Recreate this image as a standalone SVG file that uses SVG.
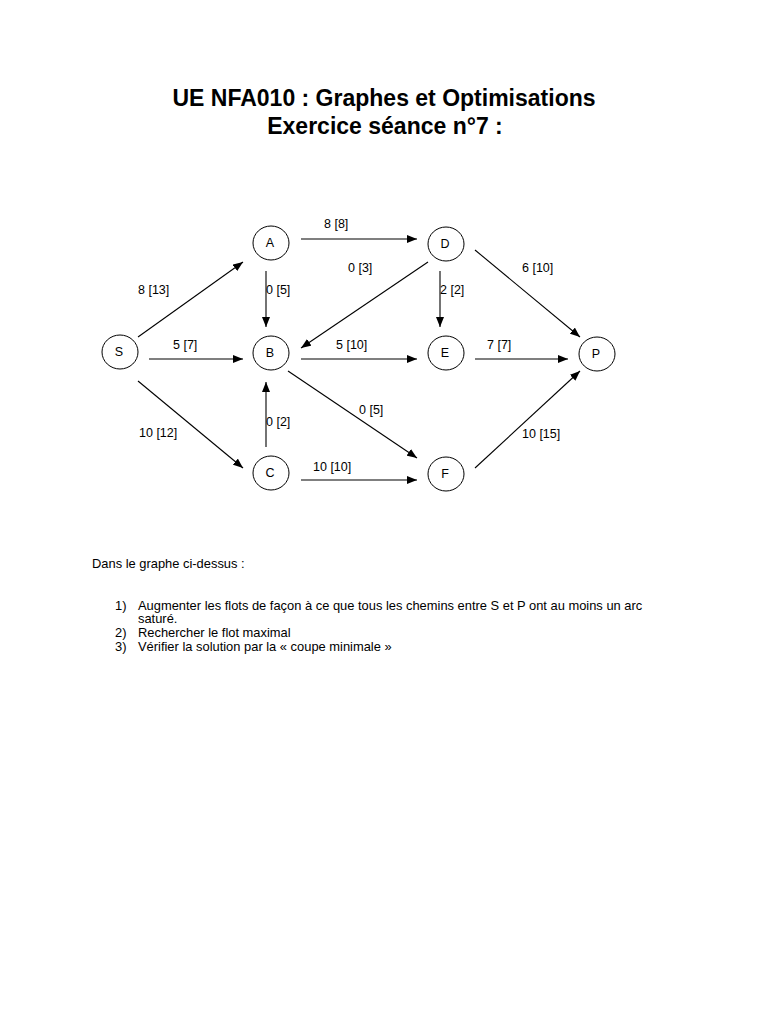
<svg xmlns="http://www.w3.org/2000/svg" width="768" height="1024" viewBox="0 0 768 1024">
<style>
.title{font-family:"Liberation Sans",Arial,sans-serif;font-size:23px;font-weight:bold;fill:#000;text-anchor:middle}
.body{font-family:"Liberation Sans",Arial,sans-serif;font-size:12.9px;fill:#000}
.lbl{font-family:"Liberation Sans",Arial,sans-serif;font-size:12.5px;fill:#000}
.nl{font-family:"Liberation Sans",Arial,sans-serif;font-size:12.5px;fill:#000;text-anchor:middle;dominant-baseline:central}
.node ellipse{fill:#fff;stroke:#000;stroke-width:1}
.edges line{stroke:#000;stroke-width:1.1;marker-end:url(#arr)}
</style>
<defs>
<marker id="arr" markerUnits="userSpaceOnUse" markerWidth="11" markerHeight="8" refX="10" refY="4" orient="auto">
<path d="M0,0 L10,4 L0,8 Z" fill="#000"/>
</marker>
</defs>
<rect width="768" height="1024" fill="#fff"/>
<text class="title" x="384" y="106">UE NFA010 : Graphes et Optimisations</text>
<text class="title" x="385" y="134">Exercice séance n°7 :</text>

<g class="edges">
<line x1="138" y1="337" x2="243" y2="262"/>
<line x1="149" y1="359" x2="243" y2="359"/>
<line x1="138" y1="381" x2="243" y2="468"/>
<line x1="266" y1="271" x2="266" y2="327"/>
<line x1="266" y1="447" x2="266" y2="382"/>
<line x1="301" y1="239" x2="417" y2="239"/>
<line x1="428" y1="262" x2="301" y2="348"/>
<line x1="440" y1="271" x2="440" y2="327"/>
<line x1="301" y1="359" x2="417" y2="359"/>
<line x1="288" y1="371" x2="417" y2="458"/>
<line x1="301" y1="480" x2="417" y2="480"/>
<line x1="475" y1="250" x2="580" y2="337"/>
<line x1="475" y1="359" x2="568" y2="359"/>
<line x1="475" y1="468" x2="580" y2="371"/>
</g>

<g id="edge-labels">
<text class="lbl" x="138" y="294">8 [13]</text>
<text class="lbl" x="266" y="294">0 [5]</text>
<text class="lbl" x="173" y="349">5 [7]</text>
<text class="lbl" x="139" y="437">10 [12]</text>
<text class="lbl" x="266" y="426">0 [2]</text>
<text class="lbl" x="324" y="228">8 [8]</text>
<text class="lbl" x="348" y="272">0 [3]</text>
<text class="lbl" x="440" y="294">2 [2]</text>
<text class="lbl" x="336" y="349">5 [10]</text>
<text class="lbl" x="359" y="414">0 [5]</text>
<text class="lbl" x="313" y="471">10 [10]</text>
<text class="lbl" x="522" y="272">6 [10]</text>
<text class="lbl" x="487" y="349">7 [7]</text>
<text class="lbl" x="522" y="438">10 [15]</text>
</g>

<g id="node-S" class="node"><ellipse cx="120" cy="352" rx="18" ry="17"/><text class="nl" x="119" y="352">S</text></g>
<g id="node-A" class="node"><ellipse cx="271" cy="243" rx="18" ry="17"/><text class="nl" x="270" y="243">A</text></g>
<g id="node-B" class="node"><ellipse cx="271" cy="353" rx="18" ry="17"/><text class="nl" x="270" y="353">B</text></g>
<g id="node-C" class="node"><ellipse cx="271" cy="473" rx="18" ry="17"/><text class="nl" x="270" y="473">C</text></g>
<g id="node-D" class="node"><ellipse cx="446" cy="244" rx="18" ry="17"/><text class="nl" x="445" y="244">D</text></g>
<g id="node-E" class="node"><ellipse cx="446" cy="353" rx="18" ry="17"/><text class="nl" x="445" y="353">E</text></g>
<g id="node-F" class="node"><ellipse cx="446" cy="474" rx="18" ry="17"/><text class="nl" x="445" y="474">F</text></g>
<g id="node-P" class="node"><ellipse cx="597" cy="354" rx="18" ry="17"/><text class="nl" x="596" y="354">P</text></g>

<text class="body" x="92" y="568">Dans le graphe ci-dessus :</text>
<text class="body" x="115" y="610">1)</text>
<text class="body" x="138" y="610">Augmenter les flots de façon à ce que tous les chemins entre S et P ont au moins un arc</text>
<text class="body" x="138" y="623">saturé.</text>
<text class="body" x="115" y="637">2)</text>
<text class="body" x="138" y="637">Rechercher le flot maximal</text>
<text class="body" x="115" y="651">3)</text>
<text class="body" x="138" y="651">Vérifier la solution par la « coupe minimale »</text>
</svg>
